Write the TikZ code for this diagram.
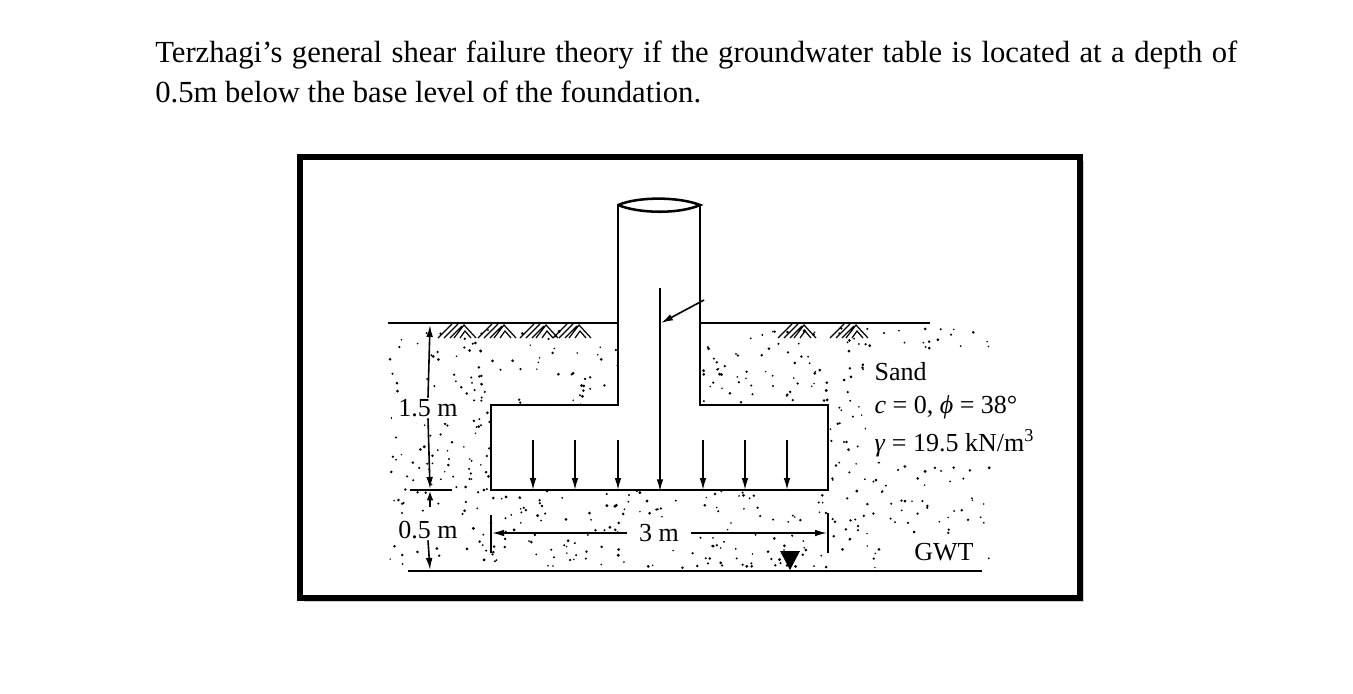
\documentclass[tikz,border=0pt]{standalone}
\usepackage{fontspec}
\setmainfont{Liberation Serif}
\usetikzlibrary{arrows.meta}
\begin{document}
\begin{tikzpicture}[x=0.75pt,y=-0.75pt,
  ln/.style={line width=1.9pt},
  arr/.style={-{Latex[length=9pt,width=5pt]},line width=1.2pt},
  lbl/.style={font=\fontsize{19.5}{22}\selectfont, inner sep=1pt},
  hat/.style={line width=0.9pt}]
\useasboundingbox (0,0) rectangle (1353,693);
\node[anchor=north west, text width=811.5pt, align=justify, inner sep=0pt,
  font=\fontsize{23}{30}\selectfont] (title) at (155,41)
  {Terzhagi’s general shear failure theory if the groundwater table is located at a depth of 0.5m below the base level of the foundation.};
% frame with shadow
\fill[gray!40] (304,161) rectangle (1084,602);
\draw[line width=4.5pt, fill=white] (300,157) rectangle (1080,598);
% stipple
\pgfmathsetseed{7}
\foreach \i in {1,...,800}{
  \pgfmathsetmacro\px{390+600*rnd}
  \pgfmathsetmacro\py{328+240*rnd}
  \pgfmathsetmacro\pr{0.8+0.8*rnd}
  \fill (\px,\py) circle (\pr);
}
% whiteouts
\fill[white] (618,200) rectangle (700,405);
\fill[white] (490,405) rectangle (829,491);
\fill[white] (388,200) rectangle (990,323);
\fill[white] (866,352) rectangle (1045,462);
\fill[white] (392,394) rectangle (466,423);
\fill[white] (392,516) rectangle (466,545);
\fill[white] (622,518) rectangle (696,548);
\fill[white] (905,536) rectangle (988,566);
\fill[white] (388,572) rectangle (990,590);
% ground line
\coordinate (gl) at (388,323); \coordinate (gr) at (930,323);
\draw[ln] (gl) -- (618,323); \draw[ln] (700,323) -- (gr);
% hatching
\foreach \x in {438,478,520,553,778,830}{
  \draw[hat] (\x,338)--(\x+14,324) (\x+6,338)--(\x+20,324) (\x+12,338)--(\x+24,326)
    (\x+16,338)--(\x+26,325)--(\x+38,338) (\x+22,338)--(\x+27,331)--(\x+33,338);
}
% column
\node[draw, ln, minimum width=61.5pt, minimum height=150pt, inner sep=0pt] (col) at (659,305) {};
\draw[ln,fill=white] (618,205) .. controls (640,196) and (680,197) .. (700,205) .. controls (680,214) and (640,214) .. (618,205);
% footing
\node[draw, ln, minimum width=252.75pt, minimum height=63.75pt, inner sep=0pt, fill=white] (ft) at (659.5,447.5) {};
\draw[white, line width=2.1pt] (619.4,405) -- (698.6,405);
\coordinate (ctop) at (660,288);
\draw[arr] (ctop) -- (ft.south -| ctop);
\coordinate (oa) at (704,300); \coordinate (ob) at (661,323);
\draw[arr] (oa) -- (ob);
\foreach \x in {533,575,618,703,745,787}{
  \draw[arr] (\x,440) -- (\x,490);
}
% GWT
\coordinate (wl) at (408,571); \coordinate (wr) at (982,571);
\draw[line width=1.2pt] (wl) -- (wr);
\fill (780,551) -- (800,551) -- (790,570) -- cycle;
\node[lbl] (gwt) at (944,552) {GWT};
% 1.5 m dimension
\draw[line width=0.9pt] (410,490) -- (452,490);
\node[lbl] (d15) at (428,408) {1.5 m};
\draw[arr] (d15.north) -- (430,325);
\draw[arr] (d15.south) -- (430,489);
\node[lbl] (d05) at (428,530) {0.5 m};
\draw[arr] (d05.south) -- (430,570);
\draw[-{Latex[length=7pt,width=5pt]},line width=1.1pt] (430,507) -- (430,491);
% 3 m
\draw[line width=0.9pt] (491,515) -- (491,553) (828,513) -- (828,553);
\node[lbl, inner xsep=9pt] (d3) at (659,533) {3 m};
\draw[arr] (d3.west) -- (492,533);
\draw[arr] (d3.east) -- (827,533);
% labels
\node[lbl, anchor=west] (sand) at (873,372) {Sand};
\node[lbl, anchor=west] (cphi) at (873,407) {\textit{c} = 0, \textit{ϕ} = 38°};
\node[lbl, anchor=west] (gam) at (873,443) {\textit{γ} = 19.5 kN/m\textsuperscript{3}};
\end{tikzpicture}
\end{document}
